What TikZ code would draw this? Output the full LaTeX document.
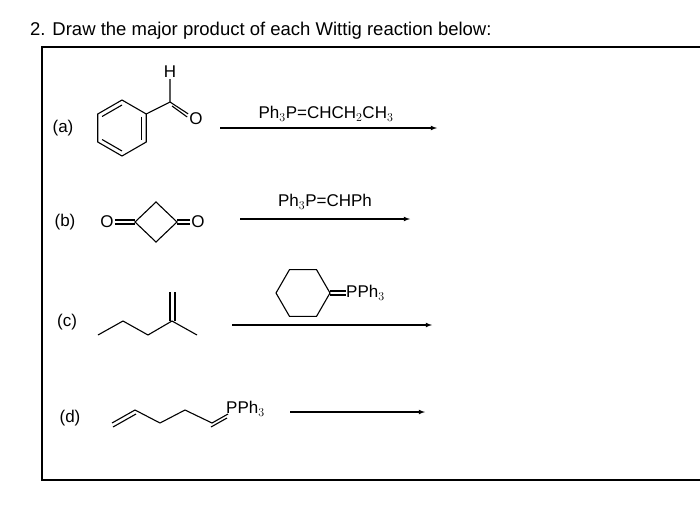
\documentclass[tikz,border=0pt]{standalone}
\usepackage{fontspec}
\setmainfont{Liberation Sans}
\usetikzlibrary{calc}
\begin{document}
\begin{tikzpicture}[x=1pt,y=-1pt,
  bond/.style={line width=1.1pt},
  rxn/.style={line width=1.1pt,-latex},
  lbl/.style={font=\fontsize{17}{20}\selectfont,inner sep=0pt},
  atom/.style={font=\fontsize{17}{20}\selectfont,inner sep=1pt}]
\useasboundingbox (0,0) rectangle (700,514);
\node[anchor=west,font=\fontsize{18.5}{22}\selectfont,inner sep=0] (title) at (30,31) {2. Draw the major product of each Wittig reaction below:};
\draw[line width=1.1pt] (705,47) -- (42,47) -- (42,480) -- (705,480);
% (a)
\node[lbl] (la) at (63,128) {(a)};
\foreach \i in {0,...,5} \coordinate (b\i) at ({122+28*cos(90-60*\i)},{128-28*sin(90-60*\i)});
\draw[bond] (b0)--(b1)--(b2)--(b3)--(b4)--(b5)--cycle;
\draw[bond] ({122+23*cos(30)},{128-23*sin(30)}) -- ({122+23*cos(-30)},{128-23*sin(-30)});
\draw[bond] ({122+23*cos(-90)},{128-23*sin(-90)}) -- ({122+23*cos(-150)},{128-23*sin(-150)});
\draw[bond] ({122+23*cos(150)},{128-23*sin(150)}) -- ({122+23*cos(90)},{128-23*sin(90)});
\coordinate (ca) at (170,102);
\node[atom] (ha) at (170,72) {H};
\node[atom] (oa) at (196,119) {O};
\draw[bond] (b1) -- (ca) -- (ha);
\draw[bond] (ca) -- (oa);
\draw[bond] ($(ca)+(2,4)$) -- ($(oa.west)+(-1,-2)$);
\coordinate (a1) at (220,128); \coordinate (a2) at (437,128);
\draw[rxn] (a1) -- (a2);
\node[lbl] (ra) at (326,114) {Ph$_3$P=CHCH$_2$CH$_3$};
% (b)
\node[lbl] (lb) at (65,222) {(b)};
\node[atom] (o1) at (107,222) {O};
\node[atom] (o2) at (198,222) {O};
\coordinate (c1) at (135,222); \coordinate (c2) at (156,202);
\coordinate (c3) at (177,222); \coordinate (c4) at (156,242);
\draw[bond] (c1)--(c2)--(c3)--(c4)--cycle;
\draw[bond] ($(o1.east)+(0,-2)$) -- ($(c1)+(0,-2)$);
\draw[bond] ($(o1.east)+(0,2)$) -- ($(c1)+(0,2)$);
\draw[bond] ($(o2.west)+(0,-2)$) -- ($(c3)+(0,-2)$);
\draw[bond] ($(o2.west)+(0,2)$) -- ($(c3)+(0,2)$);
\coordinate (b1a) at (240,219); \coordinate (b2a) at (410,219);
\draw[rxn] (b1a) -- (b2a);
\node[lbl] (rb) at (325,202) {Ph$_3$P=CHPh};
% (c)
\node[lbl] (lc) at (67,322) {(c)};
\draw[bond] (98,335)--(123,321)--(148,335)--(172,321)--(197,335);
\draw[bond] (170,321)--(170,292); \draw[bond] (175,321)--(175,292);
\coordinate (c1a) at (232,325); \coordinate (c2a) at (432,325);
\draw[rxn] (c1a) -- (c2a);
\foreach \i in {0,...,5} \coordinate (h\i) at ({303+27*cos(60*\i)},{293-27*sin(60*\i)});
\draw[bond] (h0)--(h1)--(h2)--(h3)--(h4)--(h5)--cycle;
\node[lbl,anchor=west] (rc) at (346,293) {PPh$_3$};
\draw[bond] ($(h0)+(0,-2)$) -- ($(rc.west)+(0,-2)$);
\draw[bond] ($(h0)+(0,2)$) -- ($(rc.west)+(0,2)$);
% (d)
\node[lbl] (ld) at (70,418) {(d)};
\draw[bond] (112,423)--(135,410)--(160,423)--(185,410)--(212,423)--(228,414);
\draw[bond] (113,427)--(136,414);
\draw[bond] (211,427)--(227,418);
\node[lbl,anchor=west] (rd) at (226,409) {PPh$_3$};
\coordinate (d1) at (290,412); \coordinate (d2) at (425,412);
\draw[rxn] (d1) -- (d2);
\end{tikzpicture}
\end{document}
